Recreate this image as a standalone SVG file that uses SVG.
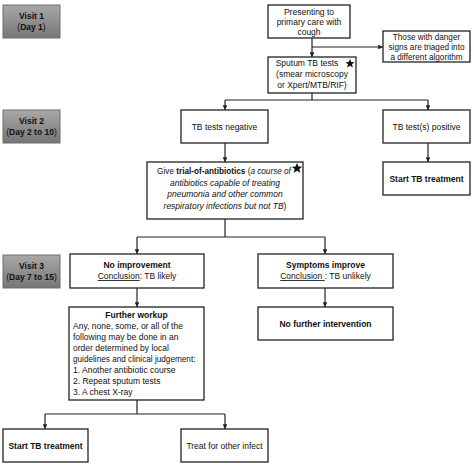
<svg xmlns="http://www.w3.org/2000/svg" width="474" height="468" viewBox="0 0 474 468">
<defs>
<linearGradient id="g" x1="0" y1="0" x2="0" y2="1">
<stop offset="0" stop-color="#a8a8a8"/>
<stop offset="1" stop-color="#767676"/>
</linearGradient>
<marker id="a" viewBox="0 0 6 6" refX="6" refY="3" markerWidth="4" markerHeight="4" orient="auto">
<path d="M0,0 L6,3 L0,6 z" fill="#222"/>
</marker>
<style>
text{font-family:"Liberation Sans",Arial,sans-serif;font-size:8.5px;fill:#111;text-anchor:middle}
.b{font-weight:bold}
.i{font-style:italic}
.l{text-anchor:start}
.s{font-size:8.2px}
.box{fill:#fff;stroke:#222;stroke-width:1.3}
.vis{fill:url(#g);stroke:#6e6e6e;stroke-width:1}
.c{fill:none;stroke:#222;stroke-width:1.2}
.ar{marker-end:url(#a)}
</style>
</defs>
<rect width="474" height="468" fill="#fff"/>

<g id="visit1"><rect class="vis" x="3" y="5" width="57" height="33"/><text class="b" x="31.5" y="19">Visit 1</text><text x="31.5" y="30">(<tspan class="b">Day 1</tspan>)</text></g>
<g id="visit2"><rect class="vis" x="3" y="110" width="57" height="33"/><text class="b" x="31.5" y="124">Visit 2</text><text x="31.5" y="135">(<tspan class="b">Day 2 to 10</tspan>)</text></g>
<g id="visit3"><rect class="vis" x="3" y="255" width="57" height="33"/><text class="b" x="31.5" y="269">Visit 3</text><text x="31.5" y="280">(<tspan class="b">Day 7 to 15</tspan>)</text></g>

<g id="connectors">
<path class="c ar" d="M312,38 V57"/>
<path class="c ar" d="M312,47 H383"/>
<path class="c" d="M312,93 V100 M225,100 H428"/>
<path class="c ar" d="M225,100 V110"/>
<path class="c ar" d="M428,100 V110"/>
<path class="c ar" d="M225,143 V162"/>
<path class="c ar" d="M428,143 V162"/>
<path class="c" d="M225,219 V237 M137,237 H325"/>
<path class="c ar" d="M137,237 V254"/>
<path class="c ar" d="M325,237 V254"/>
<path class="c ar" d="M137,288 V307"/>
<path class="c ar" d="M325,288 V307"/>
<path class="c" d="M137,400 V414 M45,414 H225"/>
<path class="c ar" d="M45,414 V429"/>
<path class="c ar" d="M225,414 V429"/>
</g>

<g id="presenting"><rect class="box" x="268" y="5" width="82" height="33"/><text x="309" y="14.5">Presenting to</text><text x="309" y="24.5">primary care with</text><text x="309" y="34.5">cough</text></g>
<g id="danger"><rect class="box" x="383" y="31" width="87" height="31"/><text class="s" x="426.5" y="40">Those with danger</text><text class="s" x="426.5" y="50">signs are triaged into</text><text class="s" x="426.5" y="60">a different algorithm</text></g>
<g id="sputum"><rect class="box" x="268" y="57" width="88" height="36"/><text x="307" y="66">Sputum TB tests</text><text x="312" y="77">(smear microscopy</text><text x="312" y="88">or Xpert/MTB/RIF)</text><polygon points="350,59 351.3,62 354.5,62.2 352,64.3 352.9,67.5 350,65.7 347.1,67.5 348,64.3 345.5,62.2 348.7,62" fill="#111"/></g>
<g id="tbneg"><rect class="box" x="181" y="110" width="87" height="33"/><text x="224.5" y="130">TB tests negative</text></g>
<g id="tbpos"><rect class="box" x="383" y="110" width="87" height="33"/><text x="426.5" y="130">TB test(s) positive</text></g>
<g id="trial"><rect class="box" x="147" y="162" width="156" height="57"/>
<text class="s" x="224" y="174">Give <tspan class="b">trial-of-antibiotics</tspan> (<tspan class="i">a course of</tspan></text>
<text class="i" x="225" y="185.5">antibiotics capable of treating</text>
<text class="i" x="225" y="197">pneumonia and other common</text>
<text x="225" y="208.5"><tspan class="i">respiratory infections but not TB</tspan>)</text>
<polygon points="297,163 298.5,166.5 302.2,166.7 299.3,169.1 300.3,172.7 297,170.7 293.7,172.7 294.7,169.1 291.8,166.7 295.5,166.5" fill="#111"/></g>
<g id="starttb1"><rect class="box" x="383" y="162" width="87" height="33"/><text class="b" x="426.5" y="182">Start TB treatment</text></g>
<g id="noimp"><rect class="box" x="70" y="254" width="134" height="34"/><text class="b" x="137" y="268">No improvement</text><text x="137" y="279"><tspan text-decoration="underline">Conclusion</tspan>: TB likely</text></g>
<g id="improve"><rect class="box" x="258" y="254" width="135" height="34"/><text class="b" x="325.5" y="268">Symptoms improve</text><text x="325.5" y="279"><tspan text-decoration="underline">Conclusion </tspan>: TB unlikely</text></g>
<g id="workup"><rect class="box" x="69" y="307" width="135" height="93"/>
<text class="b" x="136.5" y="318">Further workup</text>
<text class="l" x="73" y="329">Any, none, some, or all of the</text>
<text class="l" x="73" y="340">following may be done in an</text>
<text class="l" x="73" y="351">order determined by local</text>
<text class="l s" x="73" y="362">guidelines and clinical judgement:</text>
<text class="l" x="73" y="373">1. Another antibiotic course</text>
<text class="l" x="73" y="384">2. Repeat sputum tests</text>
<text class="l" x="73" y="395">3. A chest X-ray</text></g>
<g id="nofurther"><rect class="box" x="258" y="307" width="135" height="33"/><text class="b" x="325.5" y="327">No further intervention</text></g>
<g id="starttb2"><rect class="box" x="3" y="429" width="85" height="33"/><text class="b" x="45.5" y="449">Start TB treatment</text></g>
<g id="other"><rect class="box" x="181" y="429" width="87" height="33"/><text x="224.5" y="449">Treat for other infect</text></g>
</svg>
